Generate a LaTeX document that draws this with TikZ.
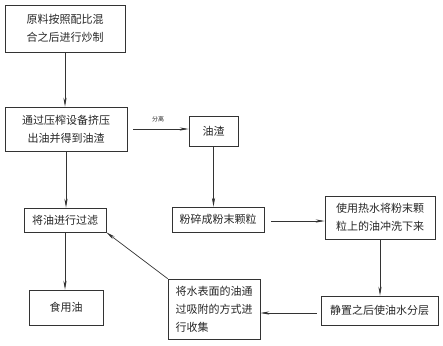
\documentclass[tikz,border=0pt]{standalone}
\usepackage{fontspec}
\newfontfamily\cjk{Noto Sans CJK SC}
\usetikzlibrary{arrows.meta}
\begin{document}
\begin{tikzpicture}[x=1pt,y=-1pt,
  box/.style={draw=black!80,line width=0.7pt,inner sep=0pt,font=\cjk\fontsize{11}{18}\selectfont,text=black!85,align=center},
  arr/.style={draw=black!80,line width=0.7pt,-{Stealth[length=9pt,width=3.2pt]}}]
\useasboundingbox (0,0) rectangle (443,345);
\node[box,minimum width=120pt,minimum height=47pt] (b1) at (65,28.5) {原料按照配比混\\合之后进行炒制};
\node[box,minimum width=122pt,minimum height=44pt] (b2) at (66,129) {通过压榨设备挤压\\出油并得到油渣};
\node[box,minimum width=49pt,minimum height=30pt] (zha) at (213.5,131) {油渣};
\node[box,minimum width=92pt,minimum height=25pt] (fs) at (218,219.5) {粉碎成粉末颗粒};
\node[box,minimum width=110pt,minimum height=43pt] (rs) at (380,217.5) {使用热水将粉末颗\\粒上的油冲洗下来};
\node[box,minimum width=117pt,minimum height=29pt] (jz) at (379.5,310.5) {静置之后使油水分层};
\node[box,minimum width=92pt,minimum height=60pt,align=left] (sm) at (214,309) {将水表面的油通\\过吸附的方式进\\行收集};
\node[box,minimum width=82pt,minimum height=24pt] (gl) at (65,220) {将油进行过滤};
\node[box,minimum width=74pt,minimum height=35pt] (sy) at (66,307.5) {食用油};
\draw[arr] (b1.south) -- (b1.south |- b2.north);
\draw[arr] ([xshift=6pt]b2.east) -- (b2.east -| zha.west) node[pos=0.45,above=3pt,font=\cjk\fontsize{6}{6}\selectfont,text=black!85] (fl) {分离};
\draw[arr] (zha.south) -- (zha.south |- fs.north);
\draw[arr] ([xshift=7pt,yshift=-1.5pt]fs.east) -- ([yshift=-1.5pt]fs.east -| rs.west);
\draw[arr] (rs.south) -- (rs.south |- jz.north);
\draw[arr] ([xshift=-4pt,yshift=-2.5pt]jz.west) -- ([yshift=-2.5pt]jz.west -| sm.east);
\draw[arr] (sm.north west) -- (gl.south east);
\draw[arr] (b2.south) -- (b2.south |- gl.north);
\draw[arr] (gl.south) -- (gl.south |- sy.north);
\end{tikzpicture}
\end{document}
